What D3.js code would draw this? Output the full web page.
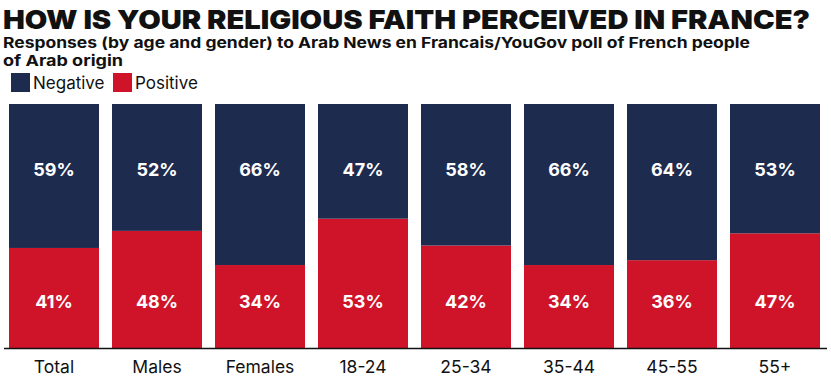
<!DOCTYPE html>
<html>
<head>
<meta charset="utf-8">
<script src="https://cdn.jsdelivr.net/npm/d3@7"></script>
<style>
  body { margin: 0; background: #fff; }
  text { font-family: "Inter", "Liberation Sans", sans-serif; }
</style>
</head>
<body>
<svg id="chart" width="831" height="390"></svg>
<script>
// data
var categories = ["Total", "Males", "Females", "18-24", "25-34", "35-44", "45-55", "55+"];
var negative = [59, 52, 66, 47, 58, 66, 64, 53];
var positive = [41, 48, 34, 53, 42, 34, 36, 47];
var seriesNames = ["Negative", "Positive"];
var colors = ["#1d2b4f", "#cf1429"];

var svg = d3.select("#chart");

/* title + subtitle */
svg.append("text")
  .attr("x", 3).attr("y", 29)
  .attr("textLength", 807).attr("lengthAdjust", "spacingAndGlyphs")
  .style("font-size", "26px").style("font-weight", 900)
  .attr("fill", "#111")
  .text("HOW IS YOUR RELIGIOUS FAITH PERCEIVED IN FRANCE?");

svg.append("text")
  .attr("x", 3).attr("y", 47.5)
  .attr("textLength", 747).attr("lengthAdjust", "spacingAndGlyphs")
  .style("font-size", "15px").style("font-weight", 700)
  .attr("fill", "#111")
  .text("Responses (by age and gender) to Arab News en Francais/YouGov poll of French people");
svg.append("text")
  .attr("x", 3).attr("y", 65.5)
  .attr("textLength", 120).attr("lengthAdjust", "spacingAndGlyphs")
  .style("font-size", "15px").style("font-weight", 700)
  .attr("fill", "#111")
  .text("of Arab origin");

/* legend */
var legendX = [11, 113];
seriesNames.forEach(function (name, i) {
  svg.append("rect")
    .attr("x", legendX[i]).attr("y", 73)
    .attr("width", 19).attr("height", 19)
    .attr("fill", colors[i]);
  svg.append("text")
    .attr("x", legendX[i] + 22).attr("y", 89)
    .style("font-size", "17px")
    .attr("fill", "#111")
    .text(name);
});

/* scales */
var x = d3.scaleBand()
  .domain(categories)
  .range([9, 820])
  .paddingInner(13 / 103)
  .paddingOuter(0);

var y = d3.scaleLinear()
  .domain([0, 100])
  .range([348, 104]);

var rows = categories.map(function (c, i) {
  return { cat: c, Positive: positive[i], Negative: negative[i] };
});
var stacked = d3.stack().keys(["Positive", "Negative"])(rows);

var g = svg.append("g");
stacked.forEach(function (layer) {
  var col = colors[seriesNames.indexOf(layer.key)];
  g.selectAll(null)
    .data(layer)
    .enter()
    .append("rect")
      .attr("x", function (d) { return x(d.data.cat); })
      .attr("y", function (d) { return y(d[1]); })
      .attr("width", x.bandwidth())
      .attr("height", function (d) { return y(d[0]) - y(d[1]); })
      .attr("fill", col);
});

// value labels sit at fixed heights in the original
var labelLevel = { Negative: 73, Positive: 19 };
stacked.forEach(function (layer) {
  g.selectAll(null)
    .data(layer)
    .enter()
    .append("text")
      .attr("x", function (d) { return x(d.data.cat) + x.bandwidth() / 2; })
      .attr("y", y(labelLevel[layer.key]))
      .attr("dy", "0.35em")
      .attr("text-anchor", "middle")
      .style("font-size", "18px").style("font-weight", 700)
      .attr("fill", "#fff")
      .text(function (d) { return d.data[layer.key] + "%"; });
});

/* baseline axis */
svg.append("line")
  .attr("x1", 4).attr("x2", 827)
  .attr("y1", y(0) + 0.5).attr("y2", y(0) + 0.5)
  .attr("stroke", "#111").attr("stroke-width", 1.5);

svg.append("g")
  .selectAll("text")
  .data(categories)
  .enter()
  .append("text")
    .attr("x", function (d) { return x(d) + x.bandwidth() / 2; })
    .attr("y", 367)
    .attr("dy", "0.35em")
    .attr("text-anchor", "middle")
    .style("font-size", "17.5px")
    .attr("fill", "#111")
    .text(function (d) { return d; });
</script>
</body>
</html>
